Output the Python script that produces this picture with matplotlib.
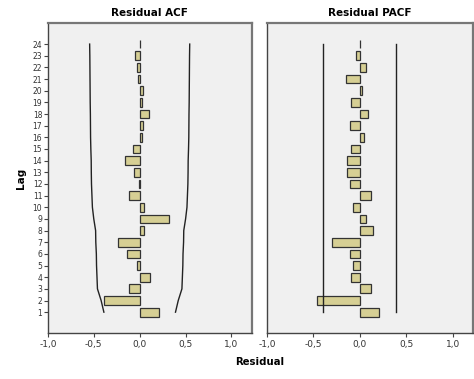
import matplotlib.pyplot as plt
import numpy as np

lags = list(range(1, 25))
acf = [0.21, -0.39, -0.12, 0.11, -0.03, -0.14, -0.235, 0.05, 0.32, 0.045, -0.115, -0.005,
       -0.06, -0.16, -0.075, 0.025, 0.04, 0.10, 0.025, 0.04, -0.015, -0.03, -0.055, 0.003]
acf_limit = [0.39, 0.42, 0.46, 0.465, 0.47, 0.472, 0.478, 0.48, 0.50, 0.515, 0.52, 0.525,
             0.527, 0.528, 0.532, 0.535, 0.536, 0.537, 0.539, 0.54, 0.541, 0.542, 0.543, 0.545]
pacf = [0.21, -0.455, 0.12, -0.09, -0.07, -0.10, -0.30, 0.145, 0.07, -0.075, 0.125, -0.11,
        -0.135, -0.14, -0.095, 0.045, -0.11, 0.085, -0.095, 0.025, -0.15, 0.07, -0.04, 0.005]
pacf_limit = [0.395] * 24
xticks = [-1.0, -0.5, 0.0, 0.5, 1.0]
xtick_labels = ['-1,0', '-0,5', '0,0', '0,5', '1,0']

bar_color = '#d6cf94'
bg = '#f0f0f0'

fig = plt.figure(figsize=(4.74, 3.79), dpi=100)
ax1 = fig.add_axes([0.101, 0.121, 0.430, 0.818])
ax2 = fig.add_axes([0.563, 0.121, 0.435, 0.818])

panels = [(ax1, acf, acf_limit, 'Residual ACF'), (ax2, pacf, pacf_limit, 'Residual PACF')]
for ax, vals, lim, title in panels:
    ax.set_facecolor(bg)
    ax.barh(lags, vals, height=0.75, color=bar_color, edgecolor='#333333', linewidth=0.9, zorder=2)
    ax.plot(lim, lags, color='#222222', lw=1.0, zorder=3)
    ax.plot([-v for v in lim], lags, color='#222222', lw=1.0, zorder=3)
    ax.set_xlim(-1.0, 1.22)
    ax.set_ylim(-0.8, 25.8)
    ax.set_xticks(xticks)
    ax.set_xticklabels(xtick_labels, fontsize=6.5, color='#333333')
    ax.set_title(title, fontsize=7.5, fontweight='bold', pad=5)
    for side in ['left', 'bottom']:
        ax.spines[side].set_color('#444444')
        ax.spines[side].set_linewidth(1.0)
    for side in ['top', 'right']:
        ax.spines[side].set_color('#777777')
        ax.spines[side].set_linewidth(1.6)
    ax.tick_params(axis='x', length=3, width=0.8, color='#444444', pad=2)

ax1.set_yticks(lags)
ax1.set_yticklabels([str(l) for l in lags], fontsize=5.5, color='#333333')
ax1.tick_params(axis='y', length=3, width=0.8, color='#444444', pad=1)
ax1.set_ylabel('Lag', fontsize=7.5, fontweight='bold', labelpad=5)
ax2.set_yticks([])

fig.text(0.548, 0.045, 'Residual', fontsize=7.3, fontweight='bold', ha='center', va='center')

fig.savefig('out.png', dpi=100)
